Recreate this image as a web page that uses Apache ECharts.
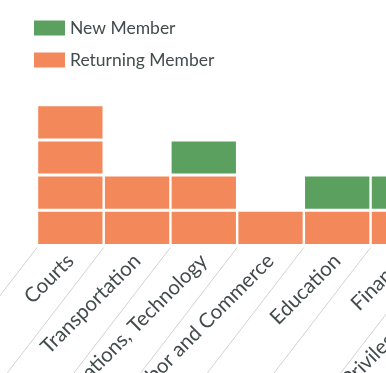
<!DOCTYPE html>
<html><head><meta charset="utf-8">
<script src="https://cdn.jsdelivr.net/npm/echarts@6/dist/echarts.min.js"></script>
<style>html,body{margin:0;padding:0;overflow:hidden;background:#fff}#c{width:540px;height:373px}</style>
</head><body><div id="c"></div>
<script>
const categories = ["Courts","Transportation","Communications, Technology","Labor and Commerce","Education","Finance","Privileges, Elections"];
const returningMembers = [4,2,2,1,1,1,1];
const newMembers = [0,0,1,0,1,1,0];
const seriesNames = ["New Member","Returning Member"];
const NEW_COLOR = "#5ba05f", RET_COLOR = "#f3895a";
const TEXT_COLOR = "#424c4c";

function blockRenderer(color){
  return function(params, api){
    const cat = api.value(0), count = api.value(1), base = api.value(2);
    const bw = api.size([1,0])[0];
    const children = [];
    for (let k=0;k<count;k++){
      const p0 = api.coord([cat, base+k]);
      const p1 = api.coord([cat, base+k+1]);
      children.push({type:'rect', shape:{x:p0[0]-bw/2+1.2, y:p1[1]+1.5, width:bw-2.4, height:p0[1]-p1[1]-3}, style:{fill:color}});
    }
    return {type:'group', children};
  };
}
function dividerRenderer(params, api){
  const cat = api.value(0);
  const bw = api.size([1,0])[0];
  const p = api.coord([cat, 0]);
  const xs = [p[0]-bw/2];
  if (cat === categories.length-1) xs.push(p[0]+bw/2);
  const y0 = p[1]+2, L = 200, slope = 1.3;
  return {type:'group', children: xs.map(x=>({type:'line', shape:{x1:x, y1:y0, x2:x-L/slope, y2:y0+L}, style:{stroke:'#d2d2d2', lineWidth:1}}))};
}

const chart = echarts.init(document.getElementById('c'));
chart.setOption({
  animation:false,
  legend:{orient:'vertical', left:29, top:14, itemWidth:31, itemHeight:15, itemGap:14, icon:'rect',
    data:seriesNames, textStyle:{fontFamily:'Lato', fontSize:17.5, color:TEXT_COLOR}},
  grid:{left:37, right:36, top:104.7, bottom:127.5, containLabel:false, outerBoundsMode:'none'},
  xAxis:{type:'category', data:categories, axisLine:{show:false}, axisTick:{show:false},
    axisLabel:{rotate:45, interval:0, margin:12, fontFamily:'Lato', fontSize:20.5, color:TEXT_COLOR}},
  yAxis:{type:'value', min:0, max:4, show:false},
  series:[
    {name:'dividers', type:'custom', silent:true, clip:false, renderItem:dividerRenderer,
      data:categories.map((c,i)=>[i]), encode:{x:0}, z:1},
    {name:seriesNames[1], type:'custom', itemStyle:{color:RET_COLOR}, renderItem:blockRenderer(RET_COLOR),
      data:categories.map((c,i)=>[i, returningMembers[i], 0]), encode:{x:0, y:[1,2]}},
    {name:seriesNames[0], type:'custom', itemStyle:{color:NEW_COLOR}, renderItem:blockRenderer(NEW_COLOR),
      data:categories.map((c,i)=>[i, newMembers[i], returningMembers[i]]), encode:{x:0, y:[1,2]}}
  ]
});
</script></body></html>
